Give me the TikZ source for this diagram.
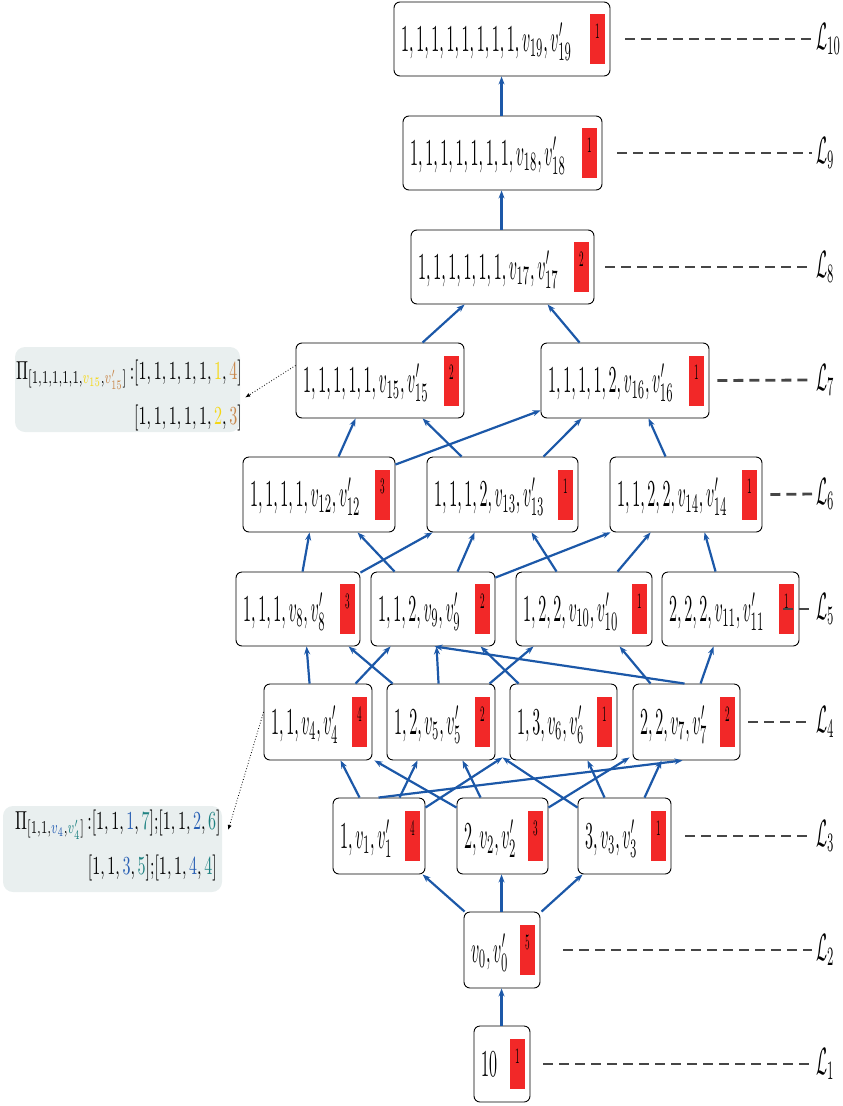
\documentclass[tikz,border=0pt]{standalone}
\usepackage{graphicx}
\usetikzlibrary{arrows.meta}
\definecolor{ablue}{RGB}{28,88,168}
\definecolor{bred}{RGB}{242,40,40}
\definecolor{yl}{RGB}{245,215,20}
\definecolor{brn}{RGB}{200,135,75}
\definecolor{bl}{RGB}{40,95,180}
\definecolor{tl}{RGB}{30,130,130}
\definecolor{afill}{RGB}{233,239,239}
\definecolor{dgrey}{RGB}{70,70,70}
\newcommand\nt[1]{\scalebox{1.6}[3.8]{#1}}
\newcommand\bt[1]{\scalebox{0.92}[2.2]{#1}}
\newcommand\at[1]{\scalebox{1.6}[2.6]{#1}}
\tikzset{
  nbox/.style={draw=black, line width=0.9pt, rounded corners=6pt, inner sep=0pt},
  badge/.style={fill=bred, minimum width=15pt, minimum height=50pt, inner sep=0pt},
  arr/.style={ablue, line width=2.2pt, -{Stealth[length=8pt,width=6pt]}},
  dl/.style={dgrey, line width=2.8pt, dash pattern=on 10pt off 6pt},
  dotarr/.style={black, dotted, line width=0.8pt, -{Latex[length=5pt,width=4pt]}},
  abox/.style={fill=afill, rounded corners=10pt, inner sep=0pt}
}
\newcommand\bx[7]{%
  \node[nbox, minimum width={(#3-#2)*1pt}, minimum height={(#5-#4)*1pt}] (#1) at ({(#2+#3)/2},{(#4+#5)/2}) {};
  \node[anchor=base west, inner sep=0pt] (#1t) at ({#2+7},{(#4+#5)/2+12}) {\nt{$#6$}};
  \node[badge] (#1b) at ({#3-12.5},{(#4+#5)/2}) {};
  \node[inner sep=0pt] (#1n) at ({#3-12.5},{(#4+#5)/2-8}) {\bt{#7}};
}
\newcommand\ed[4]{\draw[arr] ([xshift=#2pt]#1.north west) -- ([xshift=#4pt]#3.south west);}
\newcommand\lv[4]{%
  \node[anchor=west, inner sep=0pt] (L#1) at (816,#3) {\nt{$\mathcal{L}_{#1}$}};
  \draw[dl] ([xshift=#4pt]#2.east) -- ([xshift=-4pt]L#1.west) ;
}
\begin{document}
\begin{tikzpicture}[x=1pt,y=-1pt]
\useasboundingbox (0,0) rectangle (843,1106);
% boxes
\bx{a19}{394}{610}{2}{76}{1,1,1,1,1,1,1,1,v_{19},v'_{19}}{1}
\bx{a18}{403}{602}{116}{190}{1,1,1,1,1,1,1,v_{18},v'_{18}}{1}
\bx{a17}{411}{594}{230}{304}{1,1,1,1,1,1,v_{17},v'_{17}}{2}
\bx{a15}{296}{464}{343}{418}{1,1,1,1,1,v_{15},v'_{15}}{2}
\bx{a16}{541}{709}{343}{418}{1,1,1,1,2,v_{16},v'_{16}}{1}
\bx{a12}{243}{395}{457}{532}{1,1,1,1,v_{12},v'_{12}}{3}
\bx{a13}{427}{578}{457}{532}{1,1,1,2,v_{13},v'_{13}}{1}
\bx{a14}{610}{762}{457}{532}{1,1,2,2,v_{14},v'_{14}}{1}
\bx{a8}{236}{360}{572}{646}{1,1,1,v_8,v'_8}{3}
\bx{a9}{371}{495}{572}{646}{1,1,2,v_9,v'_9}{2}
\bx{a10}{516}{652}{572}{646}{1,2,2,v_{10},v'_{10}}{1}
\bx{a11}{662}{799}{572}{646}{2,2,2,v_{11},v'_{11}}{1}
\bx{a4}{264}{372}{684}{760}{1,1,v_4,v'_4}{4}
\bx{a5}{387}{495}{684}{760}{1,2,v_5,v'_5}{2}
\bx{a6}{510}{617}{684}{760}{1,3,v_6,v'_6}{1}
\bx{a7}{633}{740}{684}{760}{2,2,v_7,v'_7}{2}
\bx{a1}{333}{425}{798}{874}{1,v_1,v'_1}{4}
\bx{a2}{457}{548}{798}{874}{2,v_2,v'_2}{3}
\bx{a3}{578}{671}{798}{874}{3,v_3,v'_3}{1}
\bx{a0}{464}{540}{912}{988}{v_0,v'_0}{5}
\bx{t}{474}{530}{1026}{1102}{10}{1}
% level lines
\lv{10}{a19}{39}{15}
\lv{9}{a18}{153}{15}
\lv{8}{a17}{267}{11}
\lv{7}{a16}{380}{8}
\lv{6}{a14}{494}{8}
\lv{5}{a11}{609}{-16}
\lv{4}{a7}{722}{8}
\lv{3}{a3}{836}{14}
\lv{2}{a0}{950}{23}
\lv{1}{t}{1064}{13}
% edges
\ed{t}{28}{a0}{38}
\ed{a0}{1}{a1}{90}
\ed{a0}{38}{a2}{45}
\ed{a0}{78}{a3}{5}
\ed{a1}{27}{a4}{77}
\ed{a1}{67}{a5}{31}
\ed{a1}{46}{a7}{50}
\coordinate (m5) at ([xshift=7pt,yshift=3pt]a5.south east);
\draw[arr] ([yshift=-10pt]a1.north east) -- (m5);
\draw[arr] ([yshift=-10pt]a3.north west) -- (m5);
\draw[arr] ([yshift=-10pt]a2.north west) -- ([xshift=2pt]a4.south east);
\ed{a2}{24}{a5}{76}
\draw[arr] ([yshift=-10pt]a2.north east) -- ([xshift=-3pt,yshift=3pt]a7.south west);
\ed{a3}{27}{a6}{78}
\ed{a3}{67}{a7}{29}
\ed{a4}{46}{a8}{71}
\ed{a4}{92}{a9}{20}
\ed{a5}{6}{a8}{113}
\ed{a5}{52}{a9}{66}
\ed{a5}{103}{a10}{18}
\ed{a6}{9}{a9}{110}
\ed{a7}{52}{a9}{64}
\ed{a7}{18}{a10}{104}
\ed{a7}{68}{a11}{52}
\ed{a8}{67}{a12}{67}
\draw[arr] ([yshift=-1pt]a8.north east) -- ([xshift=6pt]a13.south west);
\ed{a9}{24}{a12}{115}
\ed{a9}{87}{a13}{48}
\draw[arr] ([yshift=-6pt]a9.north east) -- ([xshift=1pt]a14.south west);
\ed{a10}{41}{a13}{105}
\ed{a10}{102}{a14}{41}
\ed{a11}{54}{a14}{95}
\ed{a12}{96}{a15}{60}
\draw[arr] ([yshift=-8pt]a12.north east) -- ([yshift=8pt]a16.south west);
\ed{a13}{35}{a15}{127}
\ed{a13}{117}{a16}{41}
\ed{a14}{56}{a16}{108}
\ed{a15}{127}{a17}{54}
\ed{a16}{39}{a17}{137}
\ed{a17}{91}{a18}{99}
\ed{a18}{99}{a19}{108}
% annotation boxes
\node[abox, minimum width=225pt, minimum height=85pt] (A1) at (127.5,389.5) {};
\node[anchor=base west, inner sep=0pt] (A1a) at (16,379) {\at{$\Pi_{[1,1,1,1,1,\textcolor{yl}{v_{15}},\textcolor{brn}{v'_{15}}]}\,{:}[1,1,1,1,1,\textcolor{yl}{1},\textcolor{brn}{4}]$}};
\node[anchor=base east, inner sep=0pt] (A1b) at (242,424) {\at{$[1,1,1,1,1,\textcolor{yl}{2},\textcolor{brn}{3}]$}};
\node[abox, minimum width=219pt, minimum height=86pt] (A2) at (112.5,849) {};
\node[anchor=base west, inner sep=0pt] (A2a) at (15,829) {\at{$\Pi_{[1,1,\textcolor{bl}{v_4},\textcolor{tl}{v'_4}]}\,{:}[1,1,\textcolor{bl}{1},\textcolor{tl}{7}]{;}[1,1,\textcolor{bl}{2},\textcolor{tl}{6}]$}};
\node[anchor=base east, inner sep=0pt] (A2b) at (217,874) {\at{$[1,1,\textcolor{bl}{3},\textcolor{tl}{5}]{;}[1,1,\textcolor{bl}{4},\textcolor{tl}{4}]$}};
\draw[dotarr] ([yshift=15pt]a15.west) -- ([xshift=5pt,yshift=-8pt]A1.east);
\draw[dotarr] ([yshift=10pt]a4.west) -- ([xshift=6pt,yshift=19pt]A2.east);
\end{tikzpicture}
\end{document}
